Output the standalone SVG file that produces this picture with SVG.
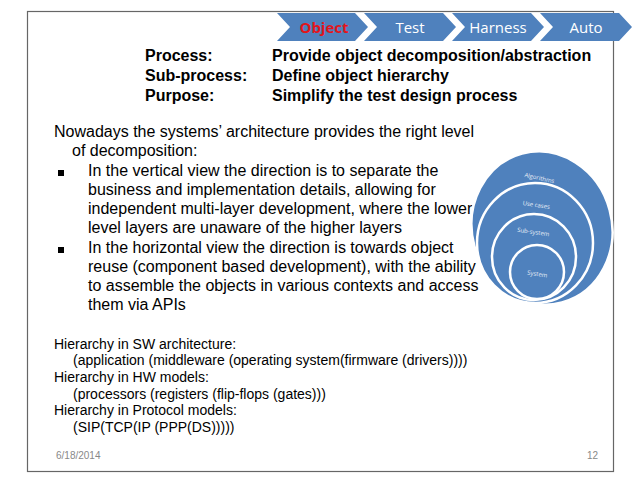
<svg xmlns="http://www.w3.org/2000/svg" width="638" height="478" viewBox="0 0 638 478">
<style>
.t{font-family:"Liberation Sans",Arial,sans-serif;font-size:16px;fill:#000}
.b{font-weight:bold}
.s{font-family:"Liberation Sans",Arial,sans-serif;font-size:14px;fill:#000}
.c{fill:#fff;font-family:"Open Sans","Liberation Sans",sans-serif;font-size:15px;text-anchor:middle}
.e{fill:#4f81bd;stroke:#fff;stroke-width:2.5}
.l{fill:#e8eef7;font-family:"Open Sans",sans-serif;font-size:6px;text-anchor:middle}
.f{font-family:"Liberation Sans",Arial,sans-serif;font-size:10px;fill:#888}
</style>
<rect width="638" height="478" fill="#fff"/>
<rect x="27.5" y="11.5" width="586" height="460" fill="none" stroke="#666" stroke-width="1.2"/>
<g id="chevrons">
<polygon points="277,13 355,13 368,27 355,41 277,41 290,27" fill="#4f81bd"/>
<polygon points="364,13 443,13 456,27 443,41 364,41 377,27" fill="#4f81bd"/>
<polygon points="452,13 531,13 544,27 531,41 452,41 465,27" fill="#4f81bd"/>
<polygon points="540,13 619,13 632,27 619,41 540,41 553,27" fill="#4f81bd"/>
<text x="324" y="33" class="c" style="fill:#e2151b;font-weight:bold">Object</text>
<text x="410" y="33" class="c">Test</text>
<text x="498" y="33" class="c">Harness</text>
<text x="586" y="33" class="c">Auto</text>
</g>
<g class="t b">
<text x="145" y="61">Process:</text><text x="272" y="61">Provide object decomposition/abstraction</text>
<text x="145" y="81">Sub-process:</text><text x="272" y="81">Define object hierarchy</text>
<text x="145" y="101">Purpose:</text><text x="272" y="101">Simplify the test design process</text>
</g>
<g class="t">
<text x="54" y="137">Nowadays the systems’ architecture provides the right level</text>
<text x="72" y="156">of decomposition:</text>
<rect x="58" y="170" width="6" height="6" fill="#000"/>
<text x="88" y="176">In the vertical view the direction is to separate the</text>
<text x="88" y="195">business and implementation details, allowing for</text>
<text x="88" y="214">independent multi-layer development, where the lower</text>
<text x="88" y="233">level layers are unaware of the higher layers</text>
<rect x="58" y="247" width="6" height="6" fill="#000"/>
<text x="88" y="253">In the horizontal view the direction is towards object</text>
<text x="88" y="272">reuse (component based development), with the ability</text>
<text x="88" y="291">to assemble the objects in various contexts  and access</text>
<text x="88" y="310">them via APIs</text>
</g>
<g class="s">
<text x="54" y="349">Hierarchy in SW architecture:</text>
<text x="73" y="365">(application (middleware (operating system(firmware (drivers))))</text>
<text x="54" y="382">Hierarchy in HW models:</text>
<text x="73" y="399">(processors (registers (flip-flops (gates)))</text>
<text x="54" y="415">Hierarchy in Protocol models:</text>
<text x="73" y="432">(SIP(TCP(IP (PPP(DS)))))</text>
</g>
<g id="ellipses">
<ellipse class="e" cx="542" cy="228" rx="70" ry="77" transform="rotate(-15 542 228)"/>
<ellipse class="e" cx="535" cy="243" rx="58" ry="60"/>
<ellipse class="e" cx="534" cy="257" rx="42" ry="43"/>
<ellipse class="e" cx="537" cy="272" rx="27" ry="27"/>
</g>
<text class="l" x="539" y="180" transform="rotate(12 539 180)">Algorithms</text>
<text class="l" x="536" y="207" transform="rotate(8 536 207)">Use cases</text>
<text class="l" x="533" y="234" transform="rotate(8 533 234)">Sub-system</text>
<text class="l" x="537" y="276" transform="rotate(8 537 276)">System</text>
<text class="f" x="56" y="459">6/18/2014</text>
<text class="f" x="598" y="459" text-anchor="end">12</text>
</svg>
